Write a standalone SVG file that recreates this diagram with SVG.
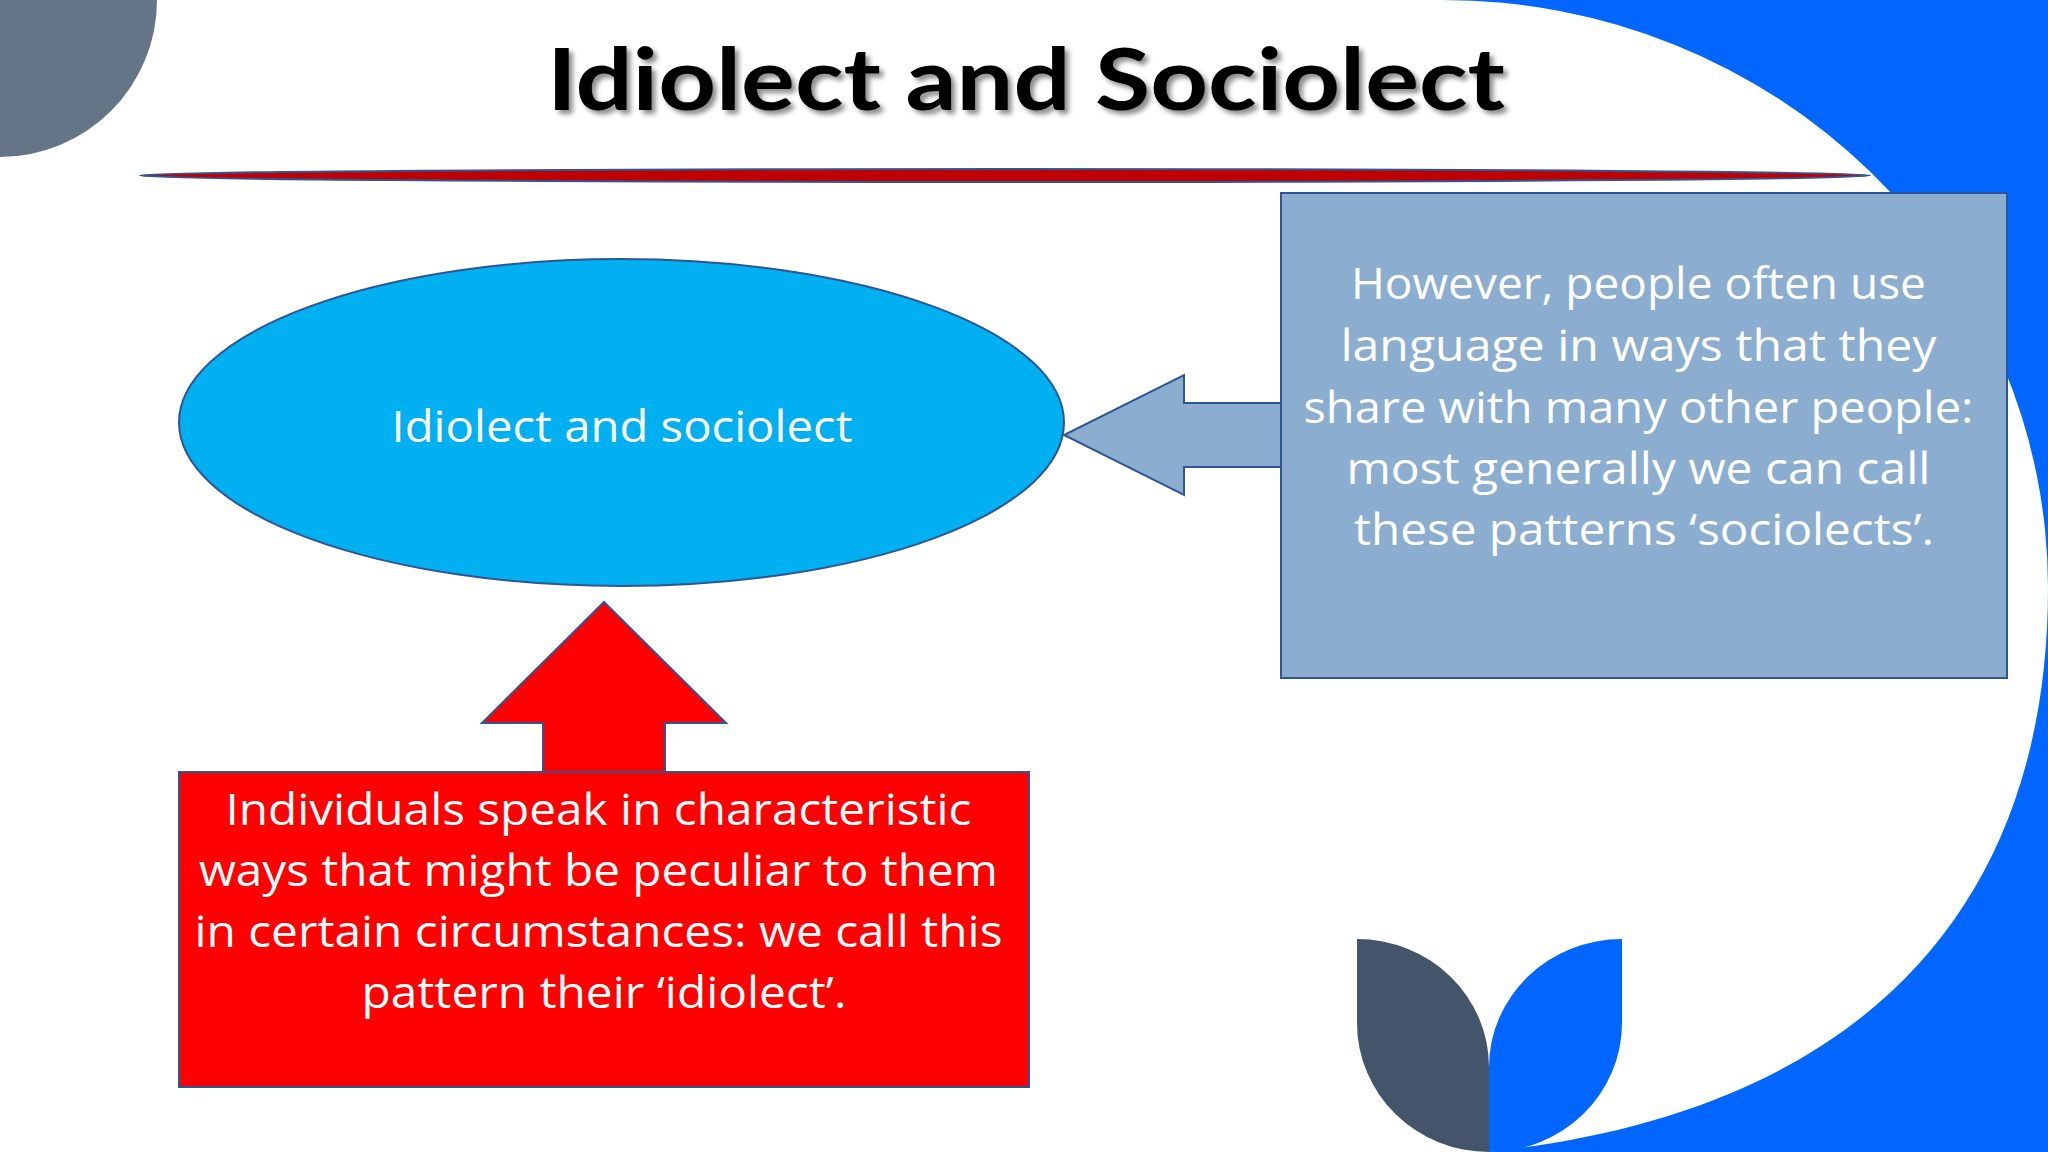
<svg xmlns="http://www.w3.org/2000/svg" width="2048" height="1152" viewBox="0 0 2048 1152">
<defs>
<filter id="shadow" x="-5%" y="-20%" width="110%" height="150%">
<feDropShadow dx="4" dy="4" stdDeviation="2.5" flood-color="#000" flood-opacity="0.45"/>
</filter>
</defs>
<style>
.body{font-family:"Open Sans","Liberation Sans",sans-serif;fill:#fff;text-anchor:middle;}
.title{font-family:"Lato","Open Sans",sans-serif;font-weight:700;fill:#000;text-anchor:middle;}
.edge{stroke:#2F5597;stroke-width:2;}
</style>
<rect x="0" y="0" width="2048" height="1152" fill="#ffffff"/>
<g id="background">
<path d="M0,0 L157,0 A157,157 0 0 1 0,157 Z" fill="#647587"/>
<path d="M1443,0 A605,588 0 0 1 2048,588 C2048,888 1884,1094 1534,1146 L1489,1152 L2048,1152 L2048,0 Z" fill="#0066FF"/>
<path d="M1357,939 A132,128 0 0 1 1489,1067 L1489,1152 A132,129 0 0 1 1357,1023 Z" fill="#44546A"/>
<path d="M1489,1152 L1489,1067 A133,128 0 0 1 1622,939 L1622,1023 A133,129 0 0 1 1489,1152 Z" fill="#0066FF"/>
</g>
<g id="title">
<text class="title" x="1026" y="110" font-size="87" textLength="958" lengthAdjust="spacingAndGlyphs" filter="url(#shadow)">Idiolect and Sociolect</text>
<ellipse cx="1005" cy="175.5" rx="865" ry="6.5" fill="#C00000" class="edge"/>
</g>
<g id="connectors">
<path id="arrow-left" d="M1281,403 L1184,403 L1184,375 L1064,435 L1184,495 L1184,467 L1281,467" fill="#8BADD0" class="edge"/>
<path id="arrow-up" d="M543,772 L543,723 L482,723 L604,602 L726,723 L665,723 L665,772" fill="#FF0000" class="edge"/>
</g>
<g id="node-center">
<ellipse cx="621.5" cy="422.5" rx="442.5" ry="163.5" fill="#00B0F0" class="edge"/>
<text class="body" x="622" y="442" font-size="44" textLength="461" lengthAdjust="spacingAndGlyphs">Idiolect and sociolect</text>
</g>
<g id="node-sociolect">
<rect x="1281" y="193" width="726" height="485" fill="#8BADD0" class="edge"/>
<text class="body" font-size="43" lengthAdjust="spacingAndGlyphs">
<tspan x="1644" y="299" textLength="575" lengthAdjust="spacingAndGlyphs">However, people often use</tspan>
<tspan x="1644" y="361" textLength="596" lengthAdjust="spacingAndGlyphs">language in ways that they</tspan>
<tspan x="1644" y="423" textLength="670" lengthAdjust="spacingAndGlyphs">share with many other people:</tspan>
<tspan x="1644" y="484" textLength="584" lengthAdjust="spacingAndGlyphs">most generally we can call</tspan>
<tspan x="1644" y="545" textLength="580" lengthAdjust="spacingAndGlyphs">these patterns ‘sociolects’.</tspan>
</text>
</g>
<g id="node-idiolect">
<rect x="179" y="772" width="850" height="315" fill="#FF0000" class="edge"/>
<text class="body" font-size="43">
<tspan x="604" y="825" textLength="746" lengthAdjust="spacingAndGlyphs">Individuals speak in characteristic</tspan>
<tspan x="604" y="886" textLength="799" lengthAdjust="spacingAndGlyphs">ways that might be peculiar to them</tspan>
<tspan x="604" y="947" textLength="808" lengthAdjust="spacingAndGlyphs">in certain circumstances: we call this</tspan>
<tspan x="604" y="1008" textLength="485" lengthAdjust="spacingAndGlyphs">pattern their ‘idiolect’.</tspan>
</text>
</g>
</svg>
